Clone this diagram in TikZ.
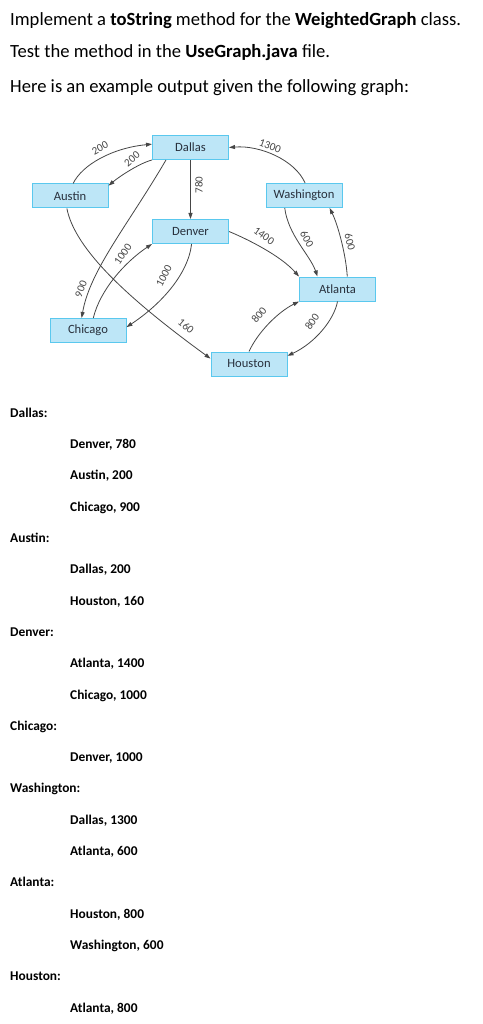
\documentclass[tikz,border=0pt]{standalone}
\usepackage{fontspec}
\setmainfont{Carlito}
\usepackage{xcolor}
\usetikzlibrary{arrows.meta, positioning}
\definecolor{cityfill}{RGB}{189,230,247}
\definecolor{cityline}{RGB}{90,200,238}
\definecolor{citytext}{RGB}{40,48,60}
\definecolor{edgegray}{RGB}{70,70,70}

\begin{document}
\begin{tikzpicture}[
    x=1pt, y=-1pt,
    citybox/.style={rectangle, draw=cityline, line width=1pt, fill=cityfill, minimum width=76pt, minimum height=24pt, inner sep=0pt, text=citytext, font=\fontsize{12.6}{14}\selectfont},
    arrowstyle/.style={-{Triangle[length=6pt, width=4pt]}, draw=edgegray, line width=0.8pt},
    weight/.style={font=\fontsize{11}{12}\selectfont, text=edgegray, inner sep=0pt},
    headline/.style={anchor=base west, inner sep=0pt, font=\fontsize{18.6}{20}\selectfont},
    listline/.style={anchor=base west, inner sep=0pt, font=\fontsize{13.4}{15}\selectfont\bfseries}
]
\fill[white] (0,0) rectangle (482,1024);
\useasboundingbox (0,0) rectangle (482,1024);

% Task text
\node[headline] (task1) at (10,26) {Implement a \textbf{toString} method for the \textbf{WeightedGraph} class.};
\node[headline] (task2) at (10,58) {Test the method in the \textbf{UseGraph.java} file.};
\node[headline] (task3) at (10,93) {Here is an example output given the following graph:};

% Cities
\node[citybox] (Dallas) at (190.5,147.5) {Dallas};
\node[citybox] (Austin) at (70,196) {Austin};
\node[citybox] (Washington) at (304,195.5) {Washington};
\node[citybox] (Denver) at (190.5,231.5) {Denver};
\node[citybox] (Atlanta) at (337.5,289) {Atlanta};
\node[citybox] (Chicago) at (88,330.5) {Chicago};
\node[citybox] (Houston) at (249,364) {Houston};

% Weighted edges
\draw[arrowstyle] (Austin.76) .. controls (82,165) and (112,148) .. (Dallas.175);
\draw[arrowstyle] (Dallas.south west) .. controls (140,163) and (120,176) .. (Austin.15);
\draw[arrowstyle] (Dallas) -- (Denver);
\draw[arrowstyle] (Dallas.207) .. controls (128,225) and (90,270) .. (Chicago.117);
\draw[arrowstyle] (Chicago.67) .. controls (100,290) and (125,262) .. (Denver.south west);
\draw[arrowstyle] (Denver.-85) .. controls (188,275) and (160,305) .. (Chicago.5);
\draw[arrowstyle] (Austin.256) .. controls (75,250) and (130,300) .. (Houston.172);
\draw[arrowstyle] (Washington.85) .. controls (295,160) and (260,145) .. (Dallas.east);
\draw[arrowstyle] (Denver.east) .. controls (245,238) and (280,255) .. (Atlanta.north west);
\draw[arrowstyle] (Washington.213) .. controls (288,235) and (310,255) .. (Atlanta.148);
\draw[arrowstyle] (Atlanta.52) .. controls (346,255) and (338,225) .. (Washington.-26);
\draw[arrowstyle] (Houston.north) .. controls (258,332) and (278,312) .. (Atlanta.south west);
\draw[arrowstyle] (Atlanta.south) .. controls (334,320) and (315,343) .. (Houston.12);

% Weights
\node[weight, rotate=28] (wAD) at (100,148) {200};
\node[weight, rotate=40] (wDA) at (132,159) {200};
\node[weight, rotate=90] (wDD) at (199,185) {780};
\node[weight, rotate=70] (wDC) at (81,289) {900};
\node[weight, rotate=55] (wCD) at (123,254) {1000};
\node[weight, rotate=62] (wDCh) at (164,276) {1000};
\node[weight, rotate=-40] (wAH) at (186,326) {160};
\node[weight, rotate=-20] (wWD) at (270,146) {1300};
\node[weight, rotate=-35] (wDAt) at (264,236) {1400};
\node[weight, rotate=-60] (wWA) at (307,239) {600};
\node[weight, rotate=-75] (wAW) at (350,242) {600};
\node[weight, rotate=50] (wHA) at (259,315) {800};
\node[weight, rotate=55] (wAHo) at (312,322) {800};

% Example output
\foreach \txt/\lvl [count=\i] in {Dallas:/0, {Denver, 780}/1, {Austin, 200}/1, {Chicago, 900}/1,
    Austin:/0, {Dallas, 200}/1, {Houston, 160}/1,
    Denver:/0, {Atlanta, 1400}/1, {Chicago, 1000}/1,
    Chicago:/0, {Denver, 1000}/1,
    Washington:/0, {Dallas, 1300}/1, {Atlanta, 600}/1,
    Atlanta:/0, {Houston, 800}/1, {Washington, 600}/1,
    Houston:/0, {Atlanta, 800}/1}
  \node[listline] (out\i) at ({10+60*\lvl},{417.3+(\i-1)*31.3}) {\txt};

\end{tikzpicture}
\end{document}
